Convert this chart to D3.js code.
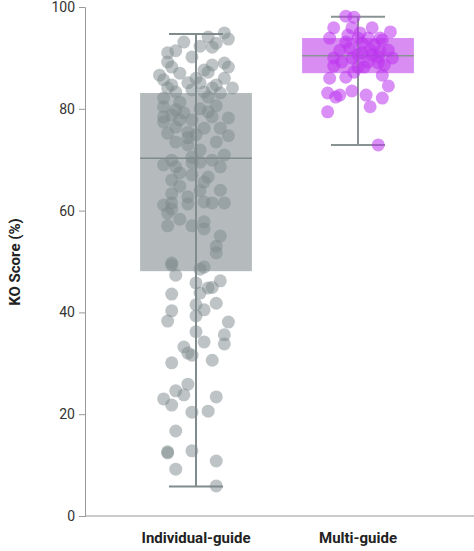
<!DOCTYPE html>
<html><head><meta charset="utf-8">
<script src="https://cdn.jsdelivr.net/npm/d3@7"></script>
<style>body{margin:0;background:#fff}</style>
</head><body>
<svg id="c" width="474" height="551"></svg>
<script>
const categories = ["Individual-guide", "Multi-guide"];
const yTicks = [0, 20, 40, 60, 80, 100];
// box stats: [whiskerLow, q1, median, q3, whiskerHigh]
const indivStats = [5.8, 48.1, 70.3, 83.1, 94.7];
const multiStats = [72.9, 87.0, 90.4, 93.9, 98.1];
// points: [jitter (-1..1), KO score]
const indivPoints = [
[0.7,94.9],[0.3,94.1],[-0.3,93.1],[0.8,93.7],[0.5,92.9],[0.4,92.1],[0.1,92.3],[-0.7,91.0],[-0.5,91.4],[-0.1,90.2],
[-0.7,89.2],[-0.6,88.2],[0.4,88.6],[0.7,89.0],[0.8,88.2],[0.2,87.6],[0.3,87.2],[-0.4,87.0],[-0.9,86.6],[0.0,86.0],
[0.7,86.0],[-0.8,85.7],[-0.2,85.1],[0.1,85.1],[-0.6,84.7],[0.5,84.7],[0.9,84.1],[0.4,84.1],[-0.7,84.1],[-0.1,83.7],
[0.2,83.3],[-0.5,83.3],[0.6,83.1],[0.3,82.3],[-0.8,82.1],[-0.4,81.3],[-0.8,80.4],[0.5,80.6],[0.1,80.0],[-0.5,79.8],
[0.3,79.4],[-0.3,79.2],[-0.6,78.8],[-0.8,78.4],[0.4,78.4],[0.8,78.2],[-0.4,77.8],[-0.1,77.8],[-0.8,77.4],[0.2,76.2],
[0.6,76.2],[-0.5,76.4],[-0.2,75.4],[-0.7,75.2],[0.0,74.9],[0.8,74.7],[-0.2,74.3],[-0.5,73.5],[0.5,73.5],[-0.2,72.9],
[0.1,71.9],[0.7,70.9],[-0.1,70.5],[-0.6,69.9],[0.4,69.9],[-0.8,69.0],[-0.1,69.4],[0.1,69.5],[-0.5,68.6],[0.6,68.6],
[-0.4,67.4],[-0.1,67.0],[0.3,66.6],[-0.6,66.0],[0.2,65.6],[-0.4,64.8],[0.1,63.9],[0.6,64.0],[-0.6,63.3],[-0.2,62.7],
[0.2,61.7],[0.4,61.5],[0.7,61.5],[-0.6,61.5],[-0.8,61.1],[-0.2,61.3],[-0.6,60.3],[-0.7,59.5],[-0.4,58.3],[-0.1,57.0],
[-0.7,57.0],[0.2,57.8],[0.2,56.4],[0.6,55.0],[0.5,53.0],[0.5,51.7],[-0.6,49.7],[0.2,48.9],
[-0.6,49.3],[-0.5,47.3],[0.1,48.5],[0.0,45.8],[0.6,46.2],[0.3,44.8],[0.1,43.8],[-0.6,43.6],[0.4,44.9],[-0.0,41.5],
[0.5,41.8],[0.2,40.5],[-0.6,40.3],[-0.7,38.3],[0.0,39.3],[0.8,38.1],[0.0,36.2],[0.7,35.6],[0.7,33.8],[0.2,34.2],
[-0.3,33.2],[-0.1,31.6],[-0.2,32.0],[-0.6,30.1],[0.4,30.6],[-0.2,25.9],[-0.5,24.6],[-0.8,23.0],[-0.3,23.8],[0.5,23.4],
[-0.6,21.8],[-0.1,20.4],[0.3,20.6],[-0.5,16.7],[-0.7,12.6],[-0.7,12.4],[-0.1,12.8],[0.5,10.8],[-0.5,9.2],[0.5,5.9]
];
const multiPoints = [
[-0.3,98.2],[-0.1,98.0],[-0.6,95.9],[-0.15,95.9],[0.35,95.9],[0.8,95.1],[-0.7,93.9],[-0.25,94.5],[0.0,93.9],[0.25,93.9],
[0.55,93.9],[0.6,93.5],[0.1,92.9],[0.4,92.5],[-0.45,91.5],[-0.2,91.9],[0.3,91.5],[0.75,91.5],[0.55,91.2],[0.1,91.0],
[0.5,90.2],[0.85,90.0],[-0.15,90.0],[-0.6,90.0],[0.25,89.2],[-0.4,89.2],[-0.6,88.4],[0.0,88.2],[0.5,89.0],[0.65,88.6],
[0.15,88.2],[-0.1,87.2],[0.6,86.6],[-0.7,86.0],[-0.3,86.2],[0.75,84.5],[-0.15,83.5],[-0.45,82.7],[-0.75,83.1],[0.2,82.7],
[-0.55,82.3],[0.6,82.1],[0.3,80.4],[-0.75,79.4],[0.5,72.9],[0.05,94.9],[-0.3,93.1],[0.35,90.6],[0.0,90.6]
];

const svg = d3.select("#c");
const x = d3.scaleBand().domain(categories).range([115, 439]).padding(0);
const y = d3.scaleLinear().domain([0, 100]).range([516, 7]);
const bw = x.bandwidth() * 0.69;
const jit = x.bandwidth() * 0.25;

const groups = [
  {cat: categories[0], stats: indivStats, pts: indivPoints, box: "#b5bbbc", line: "#808b8c", dot: "#7d8a8b", op: 0.5},
  {cat: categories[1], stats: multiStats, pts: multiPoints, box: "#d98cf2", line: "#8a9393", dot: "#bb33ee", op: 0.55}
];

groups.forEach(g => {
  const cx = x(g.cat) + x.bandwidth() / 2;
  const [lo, q1, med, q3, hi] = g.stats;
  svg.append("rect").attr("x", cx - bw/2).attr("y", y(q3)).attr("width", bw)
    .attr("height", y(q1) - y(q3)).attr("fill", g.box);
  svg.append("line").attr("x1", cx).attr("x2", cx).attr("y1", y(hi)).attr("y2", y(lo))
    .attr("stroke", g.line).attr("stroke-width", 2);
  [lo, hi].forEach(v => svg.append("line").attr("x1", cx - 27).attr("x2", cx + 27)
    .attr("y1", y(v)).attr("y2", y(v)).attr("stroke", g.line).attr("stroke-width", 2));
  svg.append("line").attr("x1", cx - bw/2).attr("x2", cx + bw/2).attr("y1", y(med)).attr("y2", y(med))
    .attr("stroke", g.line).attr("stroke-width", 1.5);
  svg.append("g").selectAll("circle").data(g.pts).join("circle")
    .attr("cx", d => cx + d[0] * jit).attr("cy", d => y(d[1])).attr("r", 6.5)
    .attr("fill", g.dot).attr("fill-opacity", g.op);
});

const yAxis = svg.append("g").attr("transform", "translate(85,0)")
  .call(d3.axisLeft(y).tickValues(yTicks).tickSize(6).tickPadding(4));
yAxis.selectAll("text").attr("font-family", "Roboto, sans-serif").attr("font-size", 14).attr("fill", "#333");
yAxis.selectAll("line,path").attr("stroke", "#999");

const xAxis = svg.append("g").attr("transform", "translate(0,516)")
  .call(d3.axisBottom(x).tickSize(0).tickPadding(16));
xAxis.select("path").attr("d", "M85,0H474").attr("stroke", "#999");
xAxis.selectAll("text").attr("font-family", "Roboto, sans-serif").attr("font-size", 15)
  .attr("font-weight", "bold").attr("fill", "#222");

svg.append("text").attr("transform", "translate(20,262) rotate(-90)").attr("text-anchor", "middle")
  .attr("font-family", "Roboto, sans-serif").attr("font-size", 15).attr("font-weight", "bold")
  .attr("fill", "#222").text("KO Score (%)");
</script>
</body></html>
